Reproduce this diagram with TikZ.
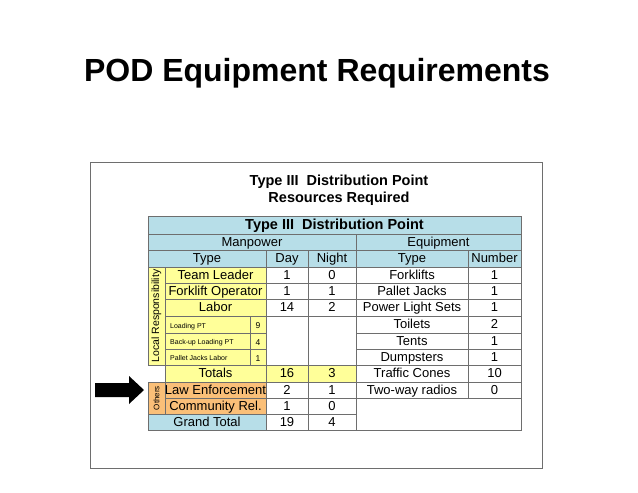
\documentclass[tikz,border=0pt]{standalone}
\usepackage{fontspec}
\setmainfont{Liberation Sans}
\definecolor{tblue}{RGB}{183,222,232}
\definecolor{tyel}{RGB}{255,255,153}
\definecolor{tora}{RGB}{250,191,120}
\definecolor{tgrid}{RGB}{110,110,110}
\newcommand{\tcell}[7]{\draw[tgrid,fill=#6] (#2,#3) rectangle (#4,#5) node[midway,text=black,font=\fontsize{13}{14}\selectfont,text height=1.5ex,text depth=.3ex,inner sep=0pt,yshift=-1pt] (#1) {#7};}
\newcommand{\tsub}[6]{\draw[tgrid,fill=tyel] (#2,#3) rectangle (#4,#5) node[midway,text=black] (#1) {};\node[anchor=west,font=\fontsize{7}{8}\selectfont,text height=1.5ex,text depth=.3ex,inner sep=0pt,yshift=-0.5pt] at (#2+5,{(#3+#5)/2}) {#6};}
\begin{document}
\begin{tikzpicture}[x=1pt,y=-1pt]
\useasboundingbox (0,0) rectangle (638,493);
\node[font=\bfseries\fontsize{32}{34}\selectfont] (title) at (317,73) {POD Equipment Requirements};
\draw[tgrid,line width=0.8pt] (90,162) rectangle (542,468);
\node[font=\bfseries\fontsize{14.5}{17}\selectfont,align=center] (sub) at (339,190) {Type III\ \ Distribution Point\\Resources Required};
\tcell{t}{148}{216}{521}{234}{tblue}{\fontsize{14.5}{15}\selectfont\bfseries Type III\ \ Distribution Point}
\tcell{mp}{148}{234}{356}{250}{tblue}{Manpower}
\tcell{eq}{356}{234}{521}{250}{tblue}{Equipment}
\tcell{h1}{148}{250}{266}{267}{tblue}{Type}
\tcell{h2}{266}{250}{308}{267}{tblue}{Day}
\tcell{h3}{308}{250}{356}{267}{tblue}{Night}
\tcell{h4}{356}{250}{468}{267}{tblue}{Type}
\tcell{h5}{468}{250}{521}{267}{tblue}{Number}
\draw[tgrid,fill=tyel] (148,267) rectangle (165,365) node[midway,rotate=90,font=\fontsize{10.5}{11}\selectfont,text=black] (lr) {Local Responsibility};
\tcell{a1}{165}{267}{266}{283}{tyel}{Team Leader}
\tcell{a2}{165}{283}{266}{299}{tyel}{Forklift Operator}
\tcell{a3}{165}{299}{266}{316}{tyel}{Labor}
\tsub{s1}{165}{316}{250}{333}{Loading PT}
\tsub{s2}{165}{333}{250}{349}{Back-up Loading PT}
\tsub{s3}{165}{349}{250}{365}{Pallet Jacks Labor}
\tcell{n1}{250}{316}{266}{333}{tyel}{\fontsize{8.5}{9}\selectfont 9}
\tcell{n2}{250}{333}{266}{349}{tyel}{\fontsize{8.5}{9}\selectfont 4}
\tcell{n3}{250}{349}{266}{365}{tyel}{\fontsize{8.5}{9}\selectfont 1}
\tcell{d1}{266}{267}{308}{283}{white}{1}
\tcell{e1}{308}{267}{356}{283}{white}{0}
\tcell{d2}{266}{283}{308}{299}{white}{1}
\tcell{e2}{308}{283}{356}{299}{white}{1}
\tcell{d3}{266}{299}{308}{316}{white}{14}
\tcell{e3}{308}{299}{356}{316}{white}{2}
\tcell{d4}{266}{316}{308}{365}{white}{}
\tcell{e4}{308}{316}{356}{365}{white}{}
\tcell{tt}{165}{365}{266}{382}{tyel}{Totals}
\tcell{td}{266}{365}{308}{382}{tyel}{16}
\tcell{tn}{308}{365}{356}{382}{tyel}{3}
\draw[tgrid,fill=tora] (148,382) rectangle (165,414) node[midway,rotate=90,font=\fontsize{8}{9}\selectfont,text=black] (ot) {Others};
\tcell{o1}{165}{382}{266}{398}{tora}{Law Enforcement}
\tcell{o2}{165}{398}{266}{414}{tora}{Community Rel.}
\tcell{od1}{266}{382}{308}{398}{white}{2}
\tcell{on1}{308}{382}{356}{398}{white}{1}
\tcell{od2}{266}{398}{308}{414}{white}{1}
\tcell{on2}{308}{398}{356}{414}{white}{0}
\tcell{gt}{148}{414}{266}{430}{tblue}{Grand Total}
\tcell{gd}{266}{414}{308}{430}{white}{19}
\tcell{gn}{308}{414}{356}{430}{white}{4}
\tcell{q1}{356}{267}{468}{283}{white}{Forklifts}
\tcell{r1}{468}{267}{521}{283}{white}{1}
\tcell{q2}{356}{283}{468}{299}{white}{Pallet Jacks}
\tcell{r2}{468}{283}{521}{299}{white}{1}
\tcell{q3}{356}{299}{468}{316}{white}{Power Light Sets}
\tcell{r3}{468}{299}{521}{316}{white}{1}
\tcell{q4}{356}{316}{468}{333}{white}{Toilets}
\tcell{r4}{468}{316}{521}{333}{white}{2}
\tcell{q5}{356}{333}{468}{349}{white}{Tents}
\tcell{r5}{468}{333}{521}{349}{white}{1}
\tcell{q6}{356}{349}{468}{365}{white}{Dumpsters}
\tcell{r6}{468}{349}{521}{365}{white}{1}
\tcell{q7}{356}{365}{468}{382}{white}{Traffic Cones}
\tcell{r7}{468}{365}{521}{382}{white}{10}
\tcell{q8}{356}{382}{468}{398}{white}{Two-way radios}
\tcell{r8}{468}{382}{521}{398}{white}{0}
\tcell{q9}{356}{398}{521}{430}{white}{}
\fill[black] (95,383) -- (129,383) -- (129,376) -- (144,390) -- (129,404) -- (129,397) -- (95,397) -- cycle;
\end{tikzpicture}
\end{document}
